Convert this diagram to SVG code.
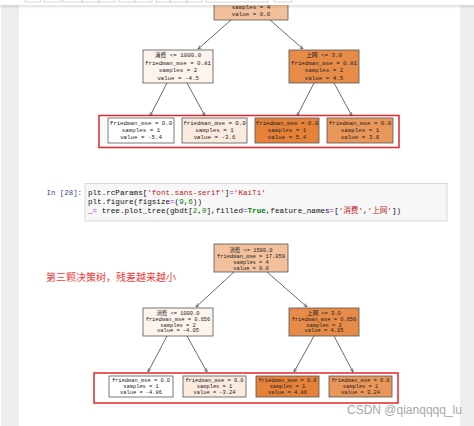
<svg xmlns="http://www.w3.org/2000/svg" width="474" height="426" viewBox="0 0 474 426">
<defs>
<style>
.t{font-family:"Liberation Mono","Noto Sans CJK SC",monospace;font-size:5.8px;text-anchor:middle;fill:#222}
.t2{font-family:"Liberation Mono","Noto Sans CJK SC",monospace;font-size:5.4px;text-anchor:middle;fill:#222}
.nd{stroke:#555;stroke-width:0.8}
.e{stroke:#444;stroke-width:0.8;fill:none;marker-end:url(#ah)}
.red{fill:none;stroke:#e3262b;stroke-width:1.5}
.code{font-family:"Liberation Mono","Noto Sans CJK SC",monospace;font-size:7.6px;fill:#111}
.s{fill:#ba2121}.o{fill:#aa22ff}.n{fill:#008800}.k{fill:#008000;font-weight:bold}
.btn{fill:#fff;stroke:#ccc;stroke-width:0.8}
</style>
<marker id="ah" viewBox="0 0 10 10" refX="9" refY="5" markerWidth="5" markerHeight="5" orient="auto">
<path d="M0,1 L9,5 L0,9" fill="none" stroke="#444" stroke-width="1.5"/>
</marker>
<linearGradient id="sh" x1="0" y1="0" x2="0" y2="1">
<stop offset="0" stop-color="#000" stop-opacity="0.12"/>
<stop offset="1" stop-color="#000" stop-opacity="0"/>
</linearGradient>
</defs>
<rect x="0" y="0" width="474" height="426" fill="#fff"/>
<rect x="1" y="0" width="18" height="426" fill="#eeeeee"/>
<rect x="460" y="0" width="14" height="426" fill="#eeeeee"/>

<!-- top tree (cut) -->
<g id="t1-root">
<rect class="nd" x="214" y="-10" width="74" height="30" fill="#f2c09c"/>
<text class="t" x="251" y="8.7">samples = 4</text>
<text class="t" x="251" y="16">value = 0.0</text>
</g>
<g id="t1-left">
<rect class="nd" x="143" y="50" width="70" height="33" fill="#fdf4ee"/>
<text class="t" x="178" y="57">消费 &lt;= 1000.0</text>
<text class="t" x="178" y="64.5">friedman_mse = 0.81</text>
<text class="t" x="178" y="72">samples = 2</text>
<text class="t" x="178" y="79.5">value = -4.5</text>
</g>
<g id="t1-right">
<rect class="nd" x="289" y="50" width="70" height="33" fill="#e78b49"/>
<text class="t" x="324" y="57">上网 &lt;= 3.0</text>
<text class="t" x="324" y="64.5">friedman_mse = 0.81</text>
<text class="t" x="324" y="72">samples = 2</text>
<text class="t" x="324" y="79.5">value = 4.5</text>
</g>
<g id="t1-l1">
<rect class="nd" x="108" y="118" width="66" height="25" fill="#ffffff"/>
<text class="t" x="141" y="125.3">friedman_mse = 0.0</text>
<text class="t" x="141" y="132.2">samples = 1</text>
<text class="t" x="141" y="139.3">value = -5.4</text>
</g>
<g id="t1-l2">
<rect class="nd" x="182" y="118" width="65" height="25" fill="#fbeade"/>
<text class="t" x="214.5" y="125.3">friedman_mse = 0.0</text>
<text class="t" x="214.5" y="132.2">samples = 1</text>
<text class="t" x="214.5" y="139.3">value = -3.6</text>
</g>
<g id="t1-l3">
<rect class="nd" x="255" y="118" width="64" height="25" fill="#e58139"/>
<text class="t" x="287" y="125.3">friedman_mse = 0.0</text>
<text class="t" x="287" y="132.2">samples = 1</text>
<text class="t" x="287" y="139.3">value = 5.4</text>
</g>
<g id="t1-l4">
<rect class="nd" x="327" y="118" width="66" height="25" fill="#e9965a"/>
<text class="t" x="360" y="125.3">friedman_mse = 0.0</text>
<text class="t" x="360" y="132.2">samples = 1</text>
<text class="t" x="360" y="139.3">value = 3.6</text>
</g>
<rect id="t1-hl" class="red" x="99" y="115.5" width="300" height="32"/>

<!-- code cell -->
<g id="cell">
<text x="82" y="194.5" font-family="Liberation Mono, monospace" font-size="7.4" fill="#303f9f" text-anchor="end">In [28]:</text>
<rect x="85" y="183.5" width="362" height="37.5" fill="#f7f7f7" stroke="#cfcfcf" stroke-width="0.8"/>
<text class="code" x="88" y="194.5">plt.rcParams[<tspan class="s">'font.sans-serif'</tspan>]<tspan class="o">=</tspan><tspan class="s">'KaiTi'</tspan></text>
<text class="code" x="88" y="203.5">plt.figure(figsize<tspan class="o">=</tspan>(<tspan class="n">9</tspan>,<tspan class="n">6</tspan>))</text>
<text class="code" x="88" y="212.5">_<tspan class="o">=</tspan> tree.plot_tree(gbdt[<tspan class="n">2</tspan>,<tspan class="n">0</tspan>],filled<tspan class="o">=</tspan><tspan class="k">True</tspan>,feature_names<tspan class="o">=</tspan>[<tspan class="s">'消费'</tspan>,<tspan class="s">'上网'</tspan>])</text>
</g>

<text id="note" x="46" y="280.5" font-family="Noto Sans CJK SC, sans-serif" font-size="10" fill="#f03c3c">第三颗决策树，残差越来越小</text>

<!-- second tree -->
<g id="t2-root">
<rect class="nd" x="214" y="244" width="74" height="28" fill="#f2c09c"/>
<text class="t2" x="251" y="252">消费 &lt;= 1500.0</text>
<text class="t2" x="251" y="258">friedman_mse = 17.059</text>
<text class="t2" x="251" y="264">samples = 4</text>
<text class="t2" x="251" y="270">value = 0.0</text>
</g>
<g id="t2-left">
<rect class="nd" x="143" y="308" width="70" height="28" fill="#fdf4ee"/>
<text class="t2" x="178" y="315">消费 &lt;= 1000.0</text>
<text class="t2" x="178" y="320.8">friedman_mse = 0.656</text>
<text class="t2" x="178" y="326.6">samples = 2</text>
<text class="t2" x="178" y="332.4">value = -4.05</text>
</g>
<g id="t2-right">
<rect class="nd" x="289" y="308" width="70" height="28" fill="#e78b49"/>
<text class="t2" x="324" y="315">上网 &lt;= 3.0</text>
<text class="t2" x="324" y="320.8">friedman_mse = 0.656</text>
<text class="t2" x="324" y="326.6">samples = 2</text>
<text class="t2" x="324" y="332.4">value = 4.05</text>
</g>
<g id="t2-l1">
<rect class="nd" x="109" y="376" width="64" height="21" fill="#ffffff"/>
<text class="t2" x="141" y="382">friedman_mse = 0.0</text>
<text class="t2" x="141" y="387.8">samples = 1</text>
<text class="t2" x="141" y="393.6">value = -4.86</text>
</g>
<g id="t2-l2">
<rect class="nd" x="183" y="376" width="63" height="21" fill="#fbeade"/>
<text class="t2" x="214.5" y="382">friedman_mse = 0.0</text>
<text class="t2" x="214.5" y="387.8">samples = 1</text>
<text class="t2" x="214.5" y="393.6">value = -3.24</text>
</g>
<g id="t2-l3">
<rect class="nd" x="256" y="376" width="63" height="21" fill="#e58139"/>
<text class="t2" x="287.5" y="382">friedman_mse = 0.0</text>
<text class="t2" x="287.5" y="387.8">samples = 1</text>
<text class="t2" x="287.5" y="393.6">value = 4.86</text>
</g>
<g id="t2-l4">
<rect class="nd" x="329" y="376" width="63" height="21" fill="#e9965a"/>
<text class="t2" x="360.5" y="382">friedman_mse = 0.0</text>
<text class="t2" x="360.5" y="387.8">samples = 1</text>
<text class="t2" x="360.5" y="393.6">value = 3.24</text>
</g>
<rect id="t2-hl" class="red" x="94" y="373" width="304" height="30"/>

<g id="connectors">
<line class="e" x1="231" y1="20" x2="198" y2="49"/>
<line class="e" x1="270" y1="20" x2="303" y2="49"/>
<line class="e" x1="167" y1="83" x2="150" y2="116"/>
<line class="e" x1="187" y1="83" x2="205" y2="116"/>
<line class="e" x1="314" y1="83" x2="297" y2="116"/>
<line class="e" x1="334" y1="83" x2="352" y2="116"/>
<line class="e" x1="234" y1="272" x2="196" y2="307"/>
<line class="e" x1="267" y1="272" x2="307" y2="307"/>
<line class="e" x1="167" y1="336" x2="148" y2="372"/>
<line class="e" x1="187" y1="336" x2="207" y2="372"/>
<line class="e" x1="314" y1="336" x2="294" y2="372"/>
<line class="e" x1="334" y1="336" x2="353" y2="372"/>
</g>

<text id="wm" x="347" y="414" font-family="Liberation Sans, sans-serif" font-size="12" fill="#a8a8a8">CSDN @qianqqqq_lu</text>

<!-- toolbar -->
<g id="toolbar">
<rect x="0" y="0" width="474" height="5" fill="#fff"/>
<rect x="0" y="5" width="474" height="4" fill="url(#sh)"/>
<rect class="btn" x="25" y="-8" width="16" height="10"/>
<rect class="btn" x="44" y="-8" width="17" height="10"/>
<rect class="btn" x="63" y="-8" width="19" height="10"/>
<rect class="btn" x="82" y="-8" width="17" height="10"/>
<rect class="btn" x="99" y="-8" width="16" height="10"/>
<rect class="btn" x="119" y="-8" width="16" height="10"/>
<rect class="btn" x="135" y="-8" width="17" height="10"/>
<rect class="btn" x="156" y="-8" width="14" height="10"/>
<rect class="btn" x="170" y="-8" width="17" height="10"/>
<rect class="btn" x="187" y="-8" width="15" height="10"/>
<rect class="btn" x="206" y="-8" width="62" height="10"/>
<rect class="btn" x="274" y="-8" width="18" height="10"/>
</g>
</svg>
